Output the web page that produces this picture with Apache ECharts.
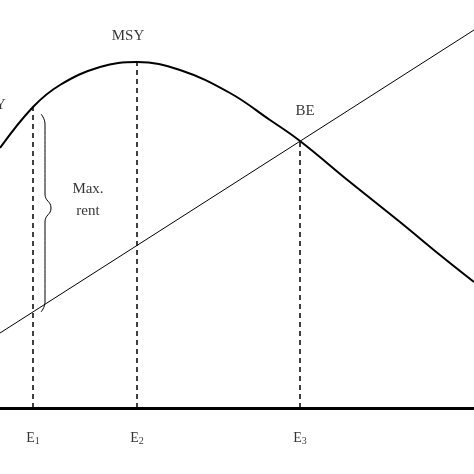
<!DOCTYPE html>
<html><head><meta charset="utf-8">
<script src="https://cdn.jsdelivr.net/npm/echarts@6/dist/echarts.min.js"></script>
<style>html,body{margin:0;background:#fff}#c{width:474px;height:474px}</style>
</head><body><div id="c"></div>
<script>
// yield curve (effort, yield)
var yieldCurve = [[0,260],[33,301],[60,323],[100,341],[137,346],[180,338],[230,315],[270,288],[300,267],[350,226],[400,186],[440,153],[474,126]];
// total cost line
var costLine = [[0,75],[474,378]];
// effort levels E1, E2, E3 and yield at each
var effortX = [33, 137, 300];
var effortY = [301, 346, 267];
var effortNames = ['E{s|1}', 'E{s|2}', 'E{s|3}'];
// max rent brace
var brace = [[41,294],[45,284],[45,214],[51,200],[45,186],[45,106],[41,96]];
var notes = [['MSY',128,372],['BE',305,297],['Y',5,303],['Max.\nrent',88,208]];

var font = '"Liberation Serif", "DejaVu Serif", serif';
var series = [
  {type:'line', data:yieldCurve, smooth:0.4, symbol:'none', lineStyle:{color:'#000', width:2}},
  {type:'line', data:costLine, symbol:'none', lineStyle:{color:'#000', width:1}},
  {type:'line', data:brace, smooth:true, symbol:'none', lineStyle:{color:'#000', width:1}},
  {type:'scatter', symbolSize:0, silent:true, clip:false,
   data:notes.map(function(n){return {value:[n[1],n[2]], name:n[0]};}),
   label:{show:true, formatter:'{b}', color:'#000', textBorderWidth:0, fontFamily:font, fontSize:15, lineHeight:22, align:'left'}}
];
effortX.forEach(function(x, i){
  series.push({type:'line', data:[[x,0],[x,effortY[i]]], symbol:'none', lineStyle:{color:'#000', width:1.5, type:[5,4]}});
});
series[3].data[0].label = {align:'center'};
series[3].data[1].label = {align:'center'};
series[3].data[2].label = {align:'left', offset:[-10,0]};
series[3].data[3].label = {align:'center'};

var chart = echarts.init(document.getElementById('c'));
chart.setOption({
  animation:false,
  grid:{left:0, right:0, top:0, bottom:66},
  xAxis:{type:'value', min:0, max:474, splitLine:{show:false}, axisTick:{show:false},
    axisLine:{lineStyle:{color:'#000', width:3}},
    axisLabel:{show:false}},
  yAxis:{type:'value', min:0, max:408, show:false},
  series:series.concat([{type:'scatter', symbolSize:0, silent:true, clip:false,
    data:effortX.map(function(x,i){return {value:[x,-30], name:effortNames[i]};}),
    label:{show:true, formatter:'{b}', color:'#000', textBorderWidth:0, fontFamily:font, fontSize:14,
      rich:{s:{fontSize:10, verticalAlign:'bottom', fontFamily:font, color:'#000', padding:[6,0,0,0]}}}}])
});
</script></body></html>
